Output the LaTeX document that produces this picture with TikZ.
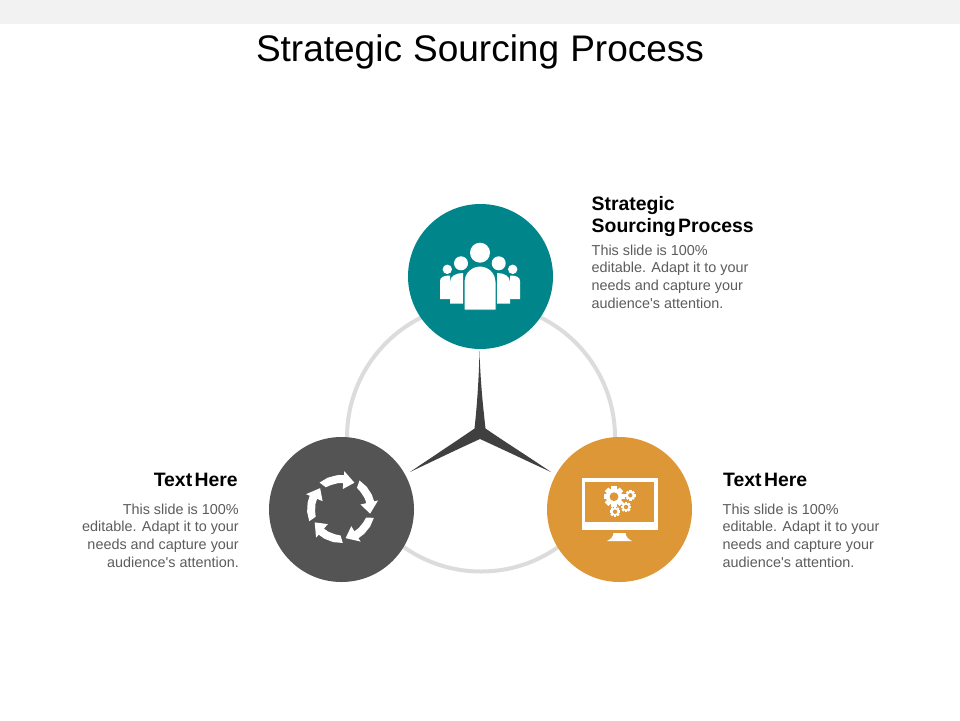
\documentclass[tikz,border=0pt]{standalone}
\usepackage{fontspec}
\setmainfont{Liberation Sans}
\newfontfamily\headfont[WordSpace=0.45]{Liberation Sans}
\definecolor{tealc}{HTML}{00858A}
\definecolor{greyc}{HTML}{545454}
\definecolor{orangec}{HTML}{DD9736}
\definecolor{ringc}{HTML}{DCDCDC}
\definecolor{starc}{HTML}{404040}
\definecolor{bodyc}{HTML}{5C5C5C}
\tikzset{
  stagecircle/.style={circle, minimum size=145pt, inner sep=0pt, fill=#1},
  headtext/.style={anchor=north west, align=left, inner sep=0pt, text=black,
    font=\headfont\fontsize{19.4}{22}\selectfont\bfseries},
  headright/.style={headtext, anchor=north east, align=right},
  bodytext/.style={anchor=north west, align=left, inner sep=0pt, text=bodyc,
    font=\fontsize{14.4}{17.8}\selectfont},
  bodyright/.style={bodytext, anchor=north east, align=right}
}
% gear: x, y, radius
\newcommand{\geartooth}[3]{
  \foreach \a in {0,45,...,315}
    \fill[white, shift={(#1,#2)}, rotate=\a] (-0.24*#3,0) rectangle (0.24*#3,#3);
  \fill[white] (#1,#2) circle (0.78*#3);
  \fill[orangec] (#1,#2) circle (0.42*#3);
}
\newcommand{\blurb}{This slide is 100\%\\editable. Adapt it to your\\needs and capture your\\audience\textquotesingle s attention.}
\begin{document}
\begin{tikzpicture}[x=1pt, y=-1pt]
\useasboundingbox (0,0) rectangle (960,720);
\fill[white] (0,0) rectangle (960,720);
\fill[black!5] (0,0) rectangle (960,24);

% Ring behind the circles
\draw[ringc, line width=4pt] (481,437.5) circle (134);

% Three pointed star
\fill[starc] (479.5,351) .. controls (478.7,385) and (476.5,410) .. (474.5,428.5)
  .. controls (455,442) and (432,457) .. (410,472)
  .. controls (433,461) and (458,449) .. (480,439)
  .. controls (502,449) and (527,461) .. (551,472)
  .. controls (529,457) and (505,442) .. (485.5,428.5)
  .. controls (483.5,410) and (480.5,385) .. (479.5,351) -- cycle;

% Circles
\node[stagecircle=tealc] (teal) at (480.5,276.5) {};
\node[stagecircle=greyc] (grey) at (341.5,509.5) {};
\node[stagecircle=orangec] (orange) at (619.5,509.5) {};

% People icon
\fill[white] (480,252.7) circle (10);
\fill[white] (461,263.3) circle (7) (498.7,263.3) circle (7);
\fill[white] (447.3,269.3) circle (4.7) (512.7,269.3) circle (4.7);
\fill[white] (440,299) -- (440,281) .. controls (440,277) and (444,275.5) .. (450,275.5) -- (450,299) -- cycle;
\fill[white] (520,299) -- (520,281) .. controls (520,277) and (516,275.5) .. (510,275.5) -- (510,299) -- cycle;
\fill[white] (450,303.5) -- (450,282) .. controls (450,276) and (456,273) .. (463,273) -- (463,303.5) -- cycle;
\fill[white] (510,303.5) -- (510,282) .. controls (510,276) and (504,273) .. (497,273) -- (497,303.5) -- cycle;
\draw[tealc, line width=1pt, fill=white] (464,310) -- (464,282) .. controls (464,272) and (472,266) .. (480,266)
  .. controls (488,266) and (496,272) .. (496,282) -- (496,310) -- cycle;

% Cycle icon
\foreach \a in {63,-9,-81,-153,-225} {
  \fill[white, shift={(341,509)}, y=1pt]
    (\a:29.5) -- ({\a+22}:38) -- ({\a+22}:34)
    -- ({\a+34}:34) -- ({\a+50}:34) -- ({\a+66}:34) -- ({\a+62}:26.5) -- ({\a+50}:26) -- ({\a+34}:26)
    -- ({\a+22}:26) -- ({\a+22}:20) -- cycle;
}

% Monitor icon
\fill[white] (581.7,477.7) rectangle (657.7,530);
\fill[orangec] (585,481.7) rectangle (654.3,522.3);
\fill[white] (613.5,533) -- (625.5,533) .. controls (626,537) and (628,539) .. (632,541) -- (607,541) .. controls (611,539) and (613,537) .. (613.5,533) -- cycle;
\geartooth{614}{496.7}{10.5}
\geartooth{630.3}{495.3}{5.2}
\geartooth{626}{507}{5.2}
\geartooth{615}{511.7}{5.2}

% Title
\node[inner sep=0pt, font=\headfont\mdseries\fontsize{37}{42}\selectfont] (title) at (480,52) {Strategic\hspace{6.5pt} Sourcing\hspace{6.5pt} Process};

% Labels
\node[headtext] (tophead) at (591.5,196) {Strategic\\Sourcing Process};
\node[bodytext] (topbody) at (591.5,244.5) {\blurb};
\node[headright] (lefthead) at (238,472.5) {Text Here};
\node[bodyright] (leftbody) at (239,503.5) {\blurb};
\node[headtext] (righthead) at (723,472.5) {Text Here};
\node[bodytext] (rightbody) at (722.5,503.5) {\blurb};
\end{tikzpicture}
\end{document}
